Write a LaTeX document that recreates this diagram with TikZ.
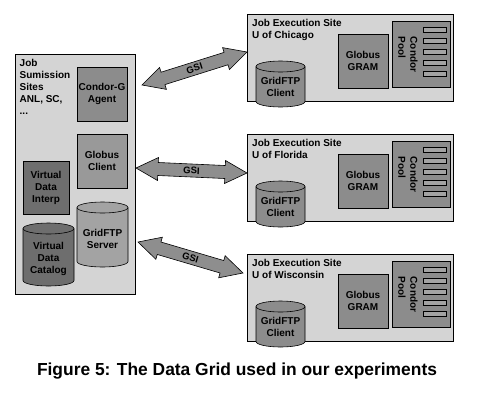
\documentclass[tikz,border=0pt]{standalone}
\usepackage{fontspec}
\setmainfont{Liberation Sans}
\usetikzlibrary{calc}
\definecolor{boxlight}{HTML}{D4D4D4}
\definecolor{gmid}{HTML}{8C8C8C}
\definecolor{gclient}{HTML}{999999}
\definecolor{gdark}{HTML}{6E6E6E}
\definecolor{glight}{HTML}{A3A3A3}
\definecolor{garrow}{HTML}{8E8E8E}
\newcommand{\lbl}{\fontsize{10}{12}\selectfont\bfseries}
\tikzset{
  site/.style={draw=black, line width=0.8pt, fill=boxlight, inner sep=0pt},
  comp/.style={draw=black, line width=0.6pt, inner sep=0pt, align=center, font=\lbl},
  title/.style={anchor=north west, align=left, font=\lbl, inner sep=0pt},
  txt/.style={align=center, font=\lbl, inner sep=0pt},
  cylpath/.style={draw=black, line width=0.6pt},
  slotbox/.style={draw=black, line width=0.6pt, fill=glight, minimum width=23pt, minimum height=4.5pt, inner sep=0pt},
  blockarr/.style={draw=black, line width=0.6pt, fill=garrow, line join=miter},
  gsi/.style={font=\fontsize{9.5}{11}\selectfont\bfseries, inner sep=0pt}
}
% cylinder: #1 name, #2 x0, #3 ytop, #4 x1, #5 ybottom, #6 fill, #7 text y, #8 text
\newcommand{\mycyl}[8]{%
  \filldraw[cylpath, fill=#6] ({#2},{#3+5.5}) -- ({#2},{#5-5.5})
    arc[start angle=180, end angle=360, x radius={((#4)-(#2))/2*1pt}, y radius=5.5pt]
    -- ({#4},{#3+5.5})
    arc[start angle=0, end angle=180, x radius={((#4)-(#2))/2*1pt}, y radius=5.5pt] -- cycle;
  \draw[cylpath] ({#2},{#3+5.5})
    arc[start angle=180, end angle=360, x radius={((#4)-(#2))/2*1pt}, y radius=5.5pt];
  \node[txt] (#1) at ({((#2)+(#4))/2},{#7}) {#8};
}
% block double arrow between two named coordinates
\newcommand{\blockarrow}[3]{%
  \filldraw[blockarr] (#1)
    -- ($(#1)!22pt!(#2)!11.5pt!90:(#2)$)
    -- ($(#1)!22pt!(#2)!6.5pt!90:(#2)$)
    -- ($(#2)!22pt!(#1)!6.5pt!-90:(#1)$)
    -- ($(#2)!22pt!(#1)!11.5pt!-90:(#1)$)
    -- (#2)
    -- ($(#2)!22pt!(#1)!11.5pt!90:(#1)$)
    -- ($(#2)!22pt!(#1)!6.5pt!90:(#1)$)
    -- ($(#1)!22pt!(#2)!6.5pt!-90:(#2)$)
    -- ($(#1)!22pt!(#2)!11.5pt!-90:(#2)$)
    -- cycle;
  \path (#1) -- (#2) node[midway, sloped, gsi] {#3};
}
\begin{document}
\begin{tikzpicture}[x=1pt, y=-1pt]
\useasboundingbox (0,0) rectangle (502,402);

% ---- Job submission site ----
\node[site, minimum width=120pt, minimum height=240pt] (jss) at (75,174) {};
\node[title] (jsstitle) at (19.5,59) {Job\\Sumission\\Sites\\ANL, SC,\\...};
\node[comp, fill=gmid, minimum width=50pt, minimum height=54pt] (condorg) at (102,94) {Condor-G\\Agent};
\node[comp, fill=gclient, minimum width=50pt, minimum height=54pt] (gclient) at (102,161) {Globus\\Client};
\node[comp, fill=gdark, minimum width=46pt, minimum height=53pt] (vdi) at (46,187.5) {Virtual\\Data\\Interp};
\mycyl{vdc}{23}{223}{74}{286}{gdark}{259}{Virtual\\Data\\Catalog}
\mycyl{gserver}{77}{202}{128}{267}{glight}{239}{GridFTP\\Server}

% ---- Job execution sites ----
\foreach \dy/\site/\nm in {0/Chicago/c, 120/Florida/f, 240/Wisconsin/w}{
  \node[site, minimum width=206pt, minimum height=87pt] (exec\nm) at (350,{57.5+\dy}) {};
  \node[title] (title\nm) at (252,{19.5+\dy}) {Job Execution Site\\U of \site};
  \node[comp, fill=gmid, minimum width=50pt, minimum height=54pt] (gram\nm) at (363,{61+\dy}) {Globus\\GRAM};
  \node[comp, fill=gmid, minimum width=58pt, minimum height=66pt] (pool\nm) at (421,{54+\dy}) {};
  \node[txt, rotate=-90, anchor=west, align=left] (pooltxt\nm) at (408,{36.5+\dy}) {Condor\\Pool};
  \foreach \k in {0,...,4}{
    \node[slotbox] (slot\nm\k) at (434.5,{29.75+11*\k+\dy}) {};
  }
  \mycyl{client\nm}{256}{61+\dy}{305}{107+\dy}{gmid}{87+\dy}{GridFTP\\Client}
}

% ---- GSI arrows ----
\coordinate (a1l) at (142,85);
\coordinate (a1r) at (247,52);
\coordinate (a2l) at (136,168);
\coordinate (a2r) at (247,173);
\coordinate (a3l) at (138,242);
\coordinate (a3r) at (243,273);
\blockarrow{a1l}{a1r}{GSI}
\blockarrow{a2l}{a2r}{GSI}
\blockarrow{a3l}{a3r}{GSI}

% ---- caption ----
\node[font=\fontsize{17.4}{20}\selectfont\bfseries, inner sep=0pt] (caption) at (237,371) {Figure 5: The Data Grid used in our experiments};
\end{tikzpicture}
\end{document}
